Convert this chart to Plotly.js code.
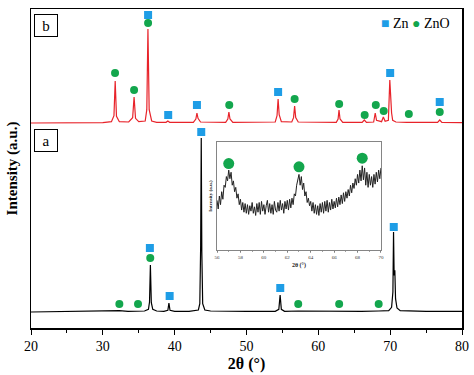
<!DOCTYPE html>
<html><head><meta charset="utf-8">
<script src="https://cdn.plot.ly/plotly-3.0.1.min.js"></script>
<style>html,body{margin:0;padding:0;background:#fff}#chart{width:474px;height:375px}</style>
</head><body><div id="chart"></div>
<script>
// ---- Sample a (black) pattern ----
var aX = [20,24,28,31,32.3,33.5,34.9,35.8,36.35,36.5,36.62,36.75,36.95,37.5,38.5,39.05,39.2,39.35,40,42,43.3,43.5,43.62,43.7,43.78,43.9,44.2,45,50,54.0,54.5,54.68,54.85,55.3,57.2,60,62.9,66,68.4,69.8,70.2,70.38,70.47,70.55,70.65,70.75,70.95,71.4,75,80];
var aY = [0,1,1,2,4,2,3,3,8,30,141,28,8,3,2,5,27,5,2,2,6,25,200,522,180,25,6,3,2,2,8,51,8,2,3,2,3,2,3,4,14,60,240,110,125,40,12,4,2,2];
// ---- Sample b (red) pattern, intensities relative to its own baseline ----
var bX = [20,26,30,31.2,31.55,31.72,31.9,32.3,33.6,34.15,34.35,34.55,35.0,35.9,36.12,36.28,36.45,36.8,37.5,38.8,39.05,39.3,42.6,42.95,43.1,43.25,43.6,47.1,47.4,47.55,47.7,48.1,54.0,54.25,54.4,54.55,54.85,56.3,56.55,56.7,56.85,57.2,62.5,62.75,62.88,63.02,63.4,66.1,66.4,66.7,67.7,67.92,68.1,68.8,69.05,69.3,69.75,69.95,70.08,70.2,70.35,70.8,72.3,72.6,72.9,76.6,76.9,77.2,80];
var bY = [0,1,1,4,22,126,20,4,3,16,78,14,4,6,40,282,40,6,2,2,6,2,2,12,30,14,3,2,12,33,12,2,3,22,72,25,4,3,16,51,16,3,2,12,39,12,2,2,9,2,3,30,8,4,18,5,8,129,60,30,8,3,2,3,2,2,9,2,1];
// ---- Peak markers ----
var aZnX = [36.55,39.3,43.7,54.7,70.5];
var aZnY = [192,48,540,72,255];
var aZnOX = [32.3,34.9,36.6,57.2,62.9,68.4];
var aZnOY = [24,24,162,24,24,24];
var bZnX = [36.3,39.1,43.1,54.4,70.0,76.9];
var bZnY = [324,24,54,93,150,63];
var bZnOX = [31.7,34.35,36.3,47.6,56.7,62.9,66.45,68.0,69.1,72.6,76.9];
var bZnOY = [150,99,300,54,72,57,24,54,36,27,33];
// ---- Inset (sample a, 56-70 deg, step 0.1) ----
var insY = [46,38,50,42,54,47,60,58,68,64,74,
  66,72,60,64,54,58,48,52,42,47,
  37,44,35,43,34,42,33,41,36,44,
  34,40,32,43,35,44,33,45,36,42,
  33,41,46,35,43,34,42,33,45,37,
  35,44,36,46,37,43,34,45,38,46,
  37,47,39,48,42,52,50,60,64,70,
  60,68,56,62,50,54,44,48,41,45,
  36,44,34,42,33,41,32,43,35,44,
  34,45,36,46,35,44,37,47,38,45,
  39,48,40,49,42,51,43,53,45,54,
  48,56,50,60,53,62,57,66,60,70,
  62,74,64,78,65,76,60,72,58,70,
  60,68,58,70,61,72,63,74,66,76];
var insX = [];
for (var i = 0; i < insY.length; i++) insX.push(+(56 + i * 0.1).toFixed(1));
var insZnOX = [57.0,63.0,68.4];
var insZnOY = [80,77,85];
var xTicks = [20,30,40,50,60,70,80];
var insTicks = [56,58,60,62,64,66,68,70];

var OFFSET_B = 567;
var ZN_COLOR = '#1e9de6', ZNO_COLOR = '#13a64d';
var serif = 'Liberation Serif, Times New Roman, serif';

var traces = [
  {x: aX, y: aY, type: 'scatter', mode: 'lines', line: {color: '#000', width: 1.2}},
  {x: bX, y: bY.map(function(v){return v + OFFSET_B;}), type: 'scatter', mode: 'lines', line: {color: '#e8232a', width: 1.2}},
  {x: aZnX, y: aZnY, type: 'scatter', mode: 'markers', marker: {symbol: 'square', size: 8, color: ZN_COLOR}},
  {x: aZnOX, y: aZnOY, type: 'scatter', mode: 'markers', marker: {symbol: 'circle', size: 8, color: ZNO_COLOR}},
  {x: bZnX, y: bZnY.map(function(v){return v + OFFSET_B;}), type: 'scatter', mode: 'markers', marker: {symbol: 'square', size: 8, color: ZN_COLOR}},
  {x: bZnOX, y: bZnOY.map(function(v){return v + OFFSET_B;}), type: 'scatter', mode: 'markers', marker: {symbol: 'circle', size: 8, color: ZNO_COLOR}},
  {x: insX, y: insY, xaxis: 'x2', yaxis: 'y2', type: 'scatter', mode: 'lines', line: {color: '#222', width: 1}},
  {x: insZnOX, y: insZnOY, xaxis: 'x2', yaxis: 'y2', type: 'scatter', mode: 'markers', marker: {symbol: 'circle', size: 11, color: ZNO_COLOR}}
];

var layout = {
  width: 474, height: 375,
  margin: {l: 31, r: 12, t: 9, b: 47},
  paper_bgcolor: '#fff', plot_bgcolor: '#fff',
  showlegend: false,
  xaxis: {
    range: [20, 80], tickvals: xTicks, ticks: 'outside', ticklen: 5, tickwidth: 1, tickcolor: '#000',
    minor: {dtick: 5, tick0: 20, ticks: 'outside', ticklen: 3, tickcolor: '#000', showgrid: false},
    showline: true, linewidth: 1.5, linecolor: '#000', mirror: true, showgrid: false, zeroline: false,
    tickfont: {family: serif, size: 14, color: '#000'},
    title: {text: '<b>2θ (°)</b>', font: {family: serif, size: 16, color: '#000'}, standoff: 4}
  },
  yaxis: {
    range: [-48, 909], showticklabels: false, ticks: '',
    showline: true, linewidth: 1.5, linecolor: '#000', mirror: true, showgrid: false, zeroline: false,
    title: {text: '<b>Intensity (a.u.)</b>', font: {family: serif, size: 15, color: '#000'}, standoff: 8}
  },
  xaxis2: {
    domain: [0.4316, 0.812], anchor: 'y2', range: [56, 70], tickvals: insTicks,
    ticks: 'outside', ticklen: 2, tickcolor: '#666', tickwidth: 0.6,
    minor: {dtick: 1, tick0: 56, ticks: 'outside', ticklen: 1.5, tickcolor: '#666'},
    showline: true, linewidth: 0.8, linecolor: '#666', mirror: true, showgrid: false, zeroline: false,
    tickfont: {family: serif, size: 5, color: '#333'},
    title: {text: '<b>2θ (°)</b>', font: {family: serif, size: 6, color: '#222'}, standoff: 3}
  },
  yaxis2: {
    domain: [0.2445, 0.583], anchor: 'x2', range: [0, 100], showticklabels: false, ticks: '',
    showline: true, linewidth: 0.8, linecolor: '#666', mirror: true, showgrid: false, zeroline: false,
    title: {text: '<b>Intensity (a.u.)</b>', font: {family: serif, size: 5, color: '#222'}, standoff: 3}
  },
  annotations: [
    {xref: 'paper', yref: 'paper', x: 0.0348, y: 0.948, xanchor: 'center', yanchor: 'middle', text: 'b', showarrow: false,
     font: {family: serif, size: 15, color: '#000'}, bordercolor: '#000', borderwidth: 1, borderpad: 0,
     width: 22, height: 21, bgcolor: '#fff'},
    {xref: 'paper', yref: 'paper', x: 0.0348, y: 0.589, xanchor: 'center', yanchor: 'middle', text: 'a', showarrow: false,
     font: {family: serif, size: 15, color: '#000'}, bordercolor: '#000', borderwidth: 1, borderpad: 0,
     width: 22, height: 21, bgcolor: '#fff'},
    {xref: 'paper', yref: 'paper', x: 0.891, y: 0.953, xanchor: 'center', yanchor: 'middle', showarrow: false,
     text: '<span style="color:' + ZN_COLOR + '">■</span> Zn <span style="color:' + ZNO_COLOR + '">●</span> ZnO',
     font: {family: serif, size: 14, color: '#000'}}
  ]
};
Plotly.newPlot('chart', traces, layout, {staticPlot: true, displayModeBar: false});
</script></body></html>
